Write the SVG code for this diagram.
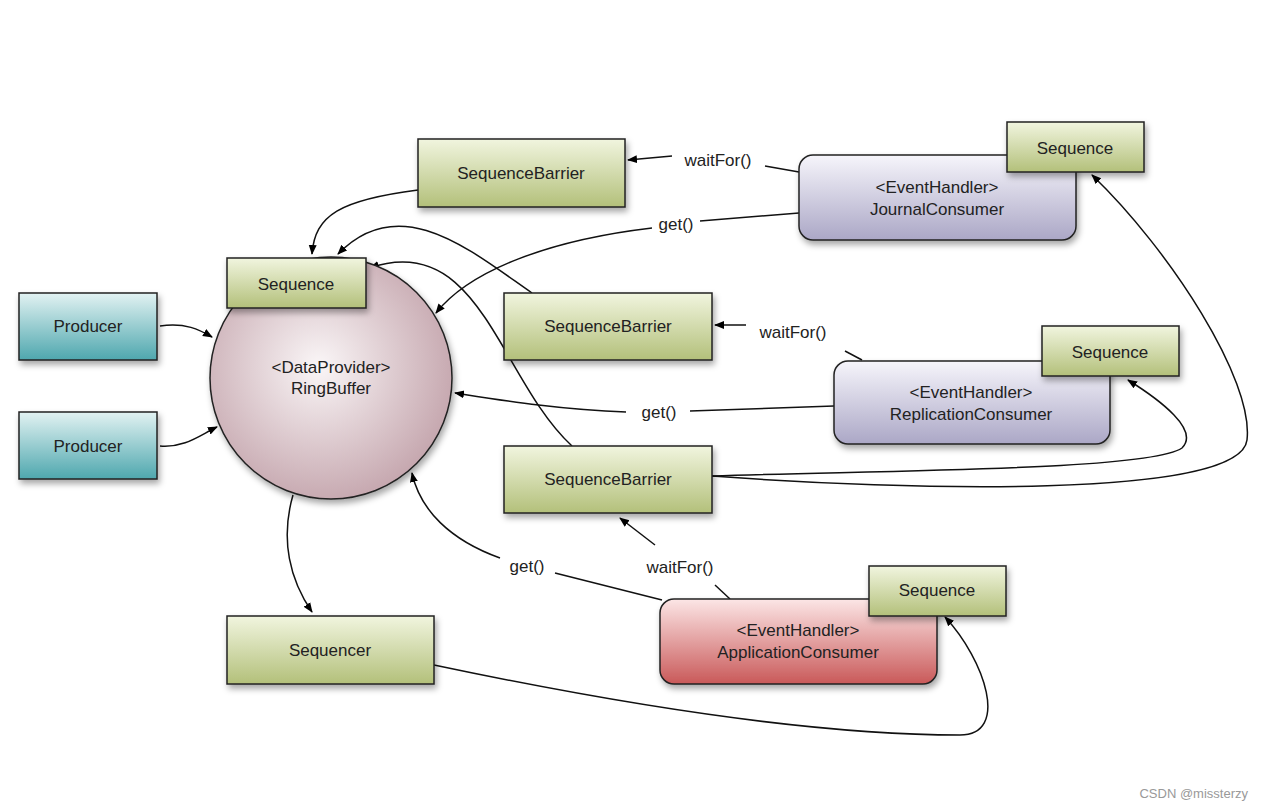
<svg xmlns="http://www.w3.org/2000/svg" width="1264" height="810" viewBox="0 0 1264 810">
<defs>
<linearGradient id="gGreen" x1="0" y1="0" x2="0" y2="1"><stop offset="0" stop-color="#f1f5df"/><stop offset="1" stop-color="#b3c07a"/></linearGradient>
<linearGradient id="gBlue" x1="0" y1="0" x2="0" y2="1"><stop offset="0" stop-color="#e2f2f2"/><stop offset="1" stop-color="#4ea7ae"/></linearGradient>
<linearGradient id="gPurple" x1="0" y1="0" x2="0" y2="1"><stop offset="0" stop-color="#f6f5fb"/><stop offset="1" stop-color="#aba7c6"/></linearGradient>
<linearGradient id="gRed" x1="0" y1="0" x2="0" y2="1"><stop offset="0" stop-color="#fce6e6"/><stop offset="1" stop-color="#c95959"/></linearGradient>
<radialGradient id="gRing" cx="0.45" cy="0.45" r="0.6"><stop offset="0" stop-color="#faf6f7"/><stop offset="1" stop-color="#c3a3ab"/></radialGradient>
<filter id="sh" x="-10%" y="-10%" width="130%" height="140%"><feDropShadow dx="2" dy="4" stdDeviation="3" flood-color="#000" flood-opacity="0.35"/></filter>
<marker id="ah" viewBox="0 0 10 10" refX="9" refY="5" markerWidth="10" markerHeight="10" markerUnits="userSpaceOnUse" orient="auto"><path d="M0,1 L10,5 L0,9 Z" fill="#000"/></marker>
<style>
.box{stroke:#222;stroke-width:1.5;filter:url(#sh)}
.t{font-family:"Liberation Sans",Arial,sans-serif;font-size:17px;fill:#222;text-anchor:middle}
.l{font-family:"Liberation Sans",Arial,sans-serif;font-size:17px;fill:#222;text-anchor:middle}
.c{fill:none;stroke:#111;stroke-width:1.5}
.a{marker-end:url(#ah)}
</style>
</defs>
<rect width="1264" height="810" fill="#fff"/>
<g id="connectors">
<path class="c a" d="M418,190 C340,200 315,215 312,254"/>
<path class="c a" d="M532,293 C470,250 400,190 338,254"/>
<path class="c a" d="M572,446 C500,380 480,230 370,268"/>
<path class="c" d="M799,213 L700,221"/>
<path class="c a" d="M652,228 C550,240 470,270 436,313"/>
<path class="c" d="M799,172 L765,166"/>
<path class="c a" d="M672,156 L628,160"/>
<path class="c" d="M862,360 L845,351"/>
<path class="c a" d="M746,325 L715,325"/>
<path class="c" d="M834,406 L690,411"/>
<path class="c a" d="M626,412 C560,410 500,400 455,393"/>
<path class="c" d="M730,599 L715,585"/>
<path class="c a" d="M655,545 L620,518"/>
<path class="c" d="M662,600 L555,573"/>
<path class="c a" d="M500,558 C450,540 420,510 412,473"/>
<path class="c a" d="M160,326 C185,322 200,330 212,337"/>
<path class="c a" d="M160,446 C185,448 200,435 217,427"/>
<path class="c a" d="M293,495 C280,540 290,580 312,612"/>
<path class="c a" d="M434,665 C600,700 800,735 960,735 C1010,735 985,660 945,617"/>
<path class="c a" d="M712,476 C900,470 1150,470 1182,448 C1200,430 1160,400 1128,380"/>
<path class="c a" d="M712,476 C900,490 1240,500 1247,440 C1254,380 1170,250 1092,175"/>
<text class="l" x="718" y="166">waitFor()</text>
<text class="l" x="676" y="230">get()</text>
<text class="l" x="793" y="338">waitFor()</text>
<text class="l" x="659" y="418">get()</text>
<text class="l" x="680" y="573">waitFor()</text>
<text class="l" x="527" y="572">get()</text>
</g>
<g id="ringbuffer"><circle class="box" cx="331" cy="378" r="121" fill="url(#gRing)"/><text class="t" x="331" y="373">&lt;DataProvider&gt;</text><text class="t" x="331" y="394">RingBuffer</text></g>
<g id="ringSequence"><rect class="box" x="227" y="258" width="139" height="50" fill="url(#gGreen)"/><text class="t" x="296" y="290">Sequence</text></g>
<g id="producer1"><rect class="box" x="19" y="293" width="138" height="67" fill="url(#gBlue)"/><text class="t" x="88" y="332">Producer</text></g>
<g id="producer2"><rect class="box" x="19" y="412" width="138" height="67" fill="url(#gBlue)"/><text class="t" x="88" y="452">Producer</text></g>
<g id="barrier1"><rect class="box" x="418" y="139" width="207" height="68" fill="url(#gGreen)"/><text class="t" x="521" y="179">SequenceBarrier</text></g>
<g id="barrier2"><rect class="box" x="504" y="293" width="208" height="67" fill="url(#gGreen)"/><text class="t" x="608" y="332">SequenceBarrier</text></g>
<g id="barrier3"><rect class="box" x="504" y="446" width="208" height="67" fill="url(#gGreen)"/><text class="t" x="608" y="485">SequenceBarrier</text></g>
<g id="sequencer"><rect class="box" x="227" y="616" width="207" height="68" fill="url(#gGreen)"/><text class="t" x="330" y="656">Sequencer</text></g>
<g id="journal"><rect class="box" x="799" y="155" width="277" height="85" rx="14" fill="url(#gPurple)"/><text class="t" x="937" y="193">&lt;EventHandler&gt;</text><text class="t" x="937" y="215">JournalConsumer</text>
<rect class="box" x="1007" y="122" width="137" height="50" fill="url(#gGreen)"/><text class="t" x="1075" y="154">Sequence</text></g>
<g id="replication"><rect class="box" x="834" y="361" width="276" height="83" rx="14" fill="url(#gPurple)"/><text class="t" x="971" y="398">&lt;EventHandler&gt;</text><text class="t" x="971" y="420">ReplicationConsumer</text>
<rect class="box" x="1042" y="326" width="137" height="50" fill="url(#gGreen)"/><text class="t" x="1110" y="358">Sequence</text></g>
<g id="application"><rect class="box" x="660" y="599" width="277" height="85" rx="14" fill="url(#gRed)"/><text class="t" x="798" y="636">&lt;EventHandler&gt;</text><text class="t" x="798" y="658">ApplicationConsumer</text>
<rect class="box" x="869" y="566" width="137" height="50" fill="url(#gGreen)"/><text class="t" x="937" y="596">Sequence</text></g>
<text x="1248" y="798" font-family="'Liberation Sans',Arial,sans-serif" font-size="13" fill="#999" text-anchor="end">CSDN @missterzy</text>
</svg>
